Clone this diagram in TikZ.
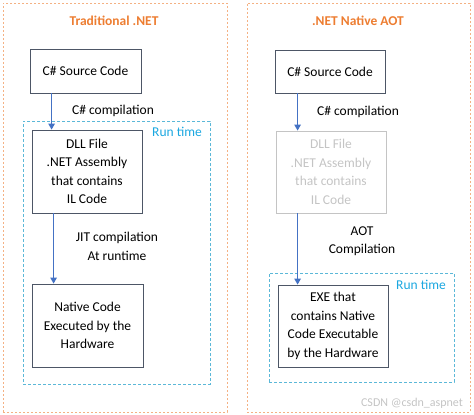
\documentclass[tikz,border=0pt]{standalone}
\usepackage{fontspec}
\setmainfont{Carlito}
\usetikzlibrary{arrows.meta}
\definecolor{orng}{HTML}{ED7D31}
\definecolor{peach}{HTML}{F4B183}
\definecolor{cyanbox}{HTML}{5BB8D8}
\definecolor{cyantxt}{HTML}{1AA7E0}
\definecolor{arrblue}{HTML}{4472C4}
\definecolor{boxline}{HTML}{4D5666}
\definecolor{ghost}{HTML}{C4C4C4}
\tikzset{
  outerbox/.style={draw=peach, line width=0.8pt, dash pattern=on 2pt off 2pt},
  runbox/.style={draw=cyanbox, line width=0.8pt, dash pattern=on 3pt off 2pt},
  codebox/.style={draw=boxline, line width=0.8pt, align=center, inner sep=0pt, font=\fontsize{13.5}{18.5}\selectfont},
  ghostbox/.style={codebox, draw=ghost, text=ghost},
  title/.style={text=orng, font=\fontsize{13.5}{16}\selectfont\bfseries},
  rt/.style={text=cyantxt, font=\fontsize{13.5}{16}\selectfont},
  lbl/.style={align=center, font=\fontsize{13.5}{18.5}\selectfont},
  arr/.style={draw=arrblue, line width=1.1pt, -{Triangle[width=6.5pt,length=6pt]}}
}
\begin{document}
\begin{tikzpicture}[x=1pt,y=-1pt]
\useasboundingbox (0,0) rectangle (474,415);
% outer boxes
\node[outerbox, minimum width=224pt, minimum height=409pt, inner sep=0pt] (outl) at (115,207.5) {};
\node[outerbox, minimum width=223pt, minimum height=409pt, inner sep=0pt] (outr) at (358.5,207.5) {};
\node[title] (tl) at (114,21) {Traditional .NET};
\node[title] (tr) at (358,21) {.NET Native AOT};
% run time boxes
\node[runbox, minimum width=187pt, minimum height=263pt, inner sep=0pt] (rtl) at (116.5,252.5) {};
\node[rt] (rtlt) at (177,132) {Run time};
\node[runbox, minimum width=185pt, minimum height=109pt, inner sep=0pt] (rtr) at (361.5,327.5) {};
\node[rt] (rtrt) at (421,284.5) {Run time};
% left column
\node[codebox, minimum width=111pt, minimum height=44pt] (csl) at (85.5,71) {C\# Source Code};
\node[codebox, minimum width=110pt, minimum height=83pt] (dll) at (87,171.5) {DLL File\\.NET Assembly\\that contains\\IL Code};
\node[codebox, minimum width=111pt, minimum height=83pt] (nat) at (87.5,325.5) {Native Code\\Executed by the\\Hardware};
\node[lbl] (l1) at (113,111) {C\# compilation};
\node[lbl] (l2) at (117,246.5) {JIT compilation\\At runtime};
% right column
\node[codebox, minimum width=110pt, minimum height=43pt] (csr) at (330,71.5) {C\# Source Code};
\node[ghostbox, minimum width=110pt, minimum height=82pt] (dllr) at (331,172) {DLL File\\.NET Assembly\\that contains\\IL Code};
\node[codebox, minimum width=110pt, minimum height=82pt] (exe) at (333,326) {EXE that\\contains Native\\Code Executable\\by the Hardware};
\node[lbl] (r1) at (358,112) {C\# compilation};
\node[lbl] (r2) at (362,241) {AOT\\Compilation};
% arrows
\draw[arr] ([xshift=22pt]csl.south west) -- ([xshift=22pt]csl.south west |- dll.north);
\draw[arr] ([xshift=22pt]dll.south west) -- ([xshift=22pt]dll.south west |- nat.north);
\draw[arr] ([xshift=23pt]csr.south west) -- ([xshift=23pt]csr.south west |- dllr.north);
\draw[arr] ([xshift=22pt]dllr.south west) -- ([xshift=22pt]dllr.south west |- exe.north);
% watermark
\node[text=ghost, font=\fontsize{12}{14}\selectfont] (wm) at (412,403) {CSDN @csdn\_aspnet};
\end{tikzpicture}
\end{document}
